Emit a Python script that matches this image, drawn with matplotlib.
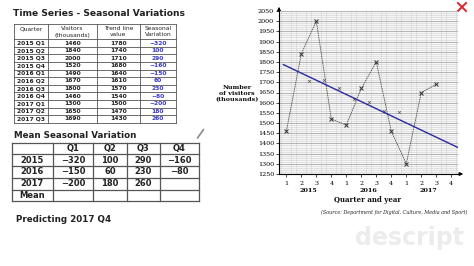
import numpy as np
import matplotlib.pyplot as plt
from matplotlib.ticker import MultipleLocator

# data
quarters = ['2015 Q1', '2015 Q2', '2015 Q3', '2015 Q4', '2016 Q1', '2016 Q2',
            '2016 Q3', '2016 Q4', '2017 Q1', '2017 Q2', '2017 Q3']
visitors = [1460, 1840, 2000, 1520, 1490, 1670, 1800, 1460, 1300, 1650, 1690]
trend_vals = [1780, 1740, 1710, 1680, 1640, 1610, 1570, 1540, 1500, 1470, 1430]
seasonal = [-320, 100, 290, -160, -150, 60, 230, -80, -200, 180, 260]
t = np.arange(1, len(visitors) + 1)

# centred moving averages plotted between quarters
ma_x = [2.5, 3.5, 4.5, 5.5, 6.5, 7.5, 8.5]
ma_y = [1705, 1712.5, 1670, 1620, 1605, 1557.5, 1552.5]

# line of best fit, ends as drawn
trend_x = [0.8, 12.45]
trend_y = [1787, 1380]

xtick_labels = ['1', '2', '3', '4'] * 3
years = ['2015', '2016', '2017']
year_pos = [2.5, 6.5, 10.5]

mean_cols = ['Q1', 'Q2', 'Q3', 'Q4']
mean_rows = ['2015', '2016', '2017', 'Mean']
mean_vals = [['-320', '100', '290', '-160'],
             ['-150', '60', '230', '-80'],
             ['-200', '180', '260', ''],
             ['', '', '', '']]

W, H = 474, 266
fig = plt.figure(figsize=(W / 100, H / 100), dpi=100)
fig.patch.set_facecolor('white')

# full-figure axes in pixel units for the whiteboard part
bg = fig.add_axes([0, 0, 1, 1])
bg.set_xlim(0, W)
bg.set_ylim(H, 0)
bg.axis('off')

hand = 'DejaVu Sans'
bg.text(13, 13, 'Time Series - Seasonal Variations', fontsize=6.6, family=hand,
        weight='bold', color='#222', va='center')

# first table
cols = [14, 48, 97, 140, 176]
top, head_bot, row_h = 24, 39.3, 7.58
n = len(quarters)
bot = head_bot + n * row_h
for xv in cols:
    bg.plot([xv, xv], [top, bot], color='#555', lw=0.6)
for yv in [top, head_bot] + [head_bot + (i + 1) * row_h for i in range(n)]:
    bg.plot([cols[0], cols[-1]], [yv, yv], color='#555', lw=0.6)
headers = [('Quarter', ''), ('Visitors', '(thousands)'), ('Trend line', 'value'),
           ('Seasonal', 'Variation')]
for j, (h1, h2) in enumerate(headers):
    cx = (cols[j] + cols[j + 1]) / 2
    if h2:
        bg.text(cx, 28.6, h1, fontsize=4.3, ha='center', va='center', color='#222')
        bg.text(cx, 35, h2, fontsize=4.3, ha='center', va='center', color='#222')
    else:
        bg.text(cx, 29, h1, fontsize=4.3, ha='center', va='center', color='#222')
for i in range(n):
    cy = head_bot + (i + 0.5) * row_h
    row = [quarters[i], str(visitors[i]), str(trend_vals[i]), str(seasonal[i])]
    for j, s in enumerate(row):
        cx = (cols[j] + cols[j + 1]) / 2
        bg.text(cx, cy, s.replace('-', '\u2212'), fontsize=4.3, ha='center', va='center',
                weight='bold', color='#3a3ac8' if j == 3 else '#222')

# second table
bg.text(14, 135, 'Mean Seasonal Variation', fontsize=6.3, family=hand,
        weight='bold', color='#222', va='center')
mcols = [12, 53, 93, 127, 160, 199]
mrows = [142.7, 154.4, 166.1, 177.8, 189.5, 201]
for xv in mcols:
    bg.plot([xv, xv], [mrows[0], mrows[-1]], color='#555', lw=0.9)
for yv in mrows:
    bg.plot([mcols[0], mcols[-1]], [yv, yv], color='#555', lw=0.9)
for j, s in enumerate(mean_cols):
    bg.text((mcols[j + 1] + mcols[j + 2]) / 2, (mrows[0] + mrows[1]) / 2, s,
            fontsize=6, ha='center', va='center', weight='bold', color='#222')
for i, r in enumerate(mean_rows):
    cy = (mrows[i + 1] + mrows[i + 2]) / 2
    bg.text((mcols[0] + mcols[1]) / 2, cy, r, fontsize=6, ha='center', va='center',
            weight='bold', color='#222')
    for j, s in enumerate(mean_vals[i]):
        bg.text((mcols[j + 1] + mcols[j + 2]) / 2, cy, s.replace('-', '\u2212'),
                fontsize=6, ha='center', va='center', weight='bold', color='#222')

bg.text(16, 219, 'Predicting 2017 Q4', fontsize=6.3, family=hand,
        weight='bold', color='#222', va='center')

# pen cursor
bg.plot([197.5, 203.5], [138, 129.5], color='#888', lw=1.2, solid_capstyle='round')

# red cross, top right
bg.plot([458, 466], [3, 11], color='#e0242b', lw=1.4)
bg.plot([458, 466], [11, 3], color='#e0242b', lw=1.4)

# watermark
bg.text(410, 238, 'descript', fontsize=17, weight='bold', color='#ececec',
        ha='center', va='center')

# chart labels
serif = 'DejaVu Serif'
bg.text(237, 94, 'Number\nof visitors\n(thousands)', fontsize=4.6, family=serif,
        weight='bold', ha='center', va='center', linespacing=1.25, color='#111')
bg.text(368, 200, 'Quarter and year', fontsize=5, family=serif, weight='bold',
        ha='center', va='center', color='#111')
bg.text(467, 212, '(Source: Department for Digital, Culture, Media and Sport)',
        fontsize=3.5, family=serif, style='italic', ha='right', va='center', color='#222')

# chart
ax = fig.add_axes([279 / W, (H - 174) / H, (458 - 279) / W, (174 - 11) / H])
ax.set_facecolor('#f6f6f6')
ax.set_xlim(0.51, 12.45)
ax.set_ylim(1250, 2050)
ax.yaxis.set_major_locator(MultipleLocator(50))
ax.yaxis.set_minor_locator(MultipleLocator(10))
ax.xaxis.set_major_locator(MultipleLocator(1))
ax.xaxis.set_minor_locator(MultipleLocator(1 / 3))
ax.grid(which='major', axis='y', color='#aaaaaa', lw=0.6)
ax.grid(which='minor', color='#d2d2d2', lw=0.4)
ax.set_axisbelow(True)
ax.set_xticks(t.tolist() + [12])
ax.set_xticklabels(xtick_labels)
ax.tick_params(axis='both', labelsize=4.6, length=2, width=0.5, pad=1.5,
               labelfontfamily=serif)
ax.tick_params(axis='x', pad=3)
ax.tick_params(which='minor', length=0)
for s in ['top', 'right']:
    ax.spines[s].set_visible(False)
for s in ['left', 'bottom']:
    ax.spines[s].set_linewidth(0.8)

ax.plot(t, visitors, color='#555', lw=0.6, ls=(0, (2, 0.8)), marker='x', ms=2.6,
        mew=0.7, mec='#333')
ax.plot(ma_x, ma_y, ls='none', marker='x', ms=2, mew=0.5, color='#555')
ax.plot(trend_x, trend_y, color='#2a2aa0', lw=1)

for yr, xp in zip(years, year_pos):
    ax.text(xp, -(190 - 174) / 163, yr, transform=ax.get_xaxis_transform(),
            fontsize=4.6, family=serif, weight='bold', ha='center', va='center')

# axis arrows
bg.annotate('', xy=(466, 174), xytext=(456, 174),
            arrowprops=dict(arrowstyle='-|>', color='k', lw=0.8, mutation_scale=5))
bg.annotate('', xy=(279, 4), xytext=(279, 13),
            arrowprops=dict(arrowstyle='-|>', color='k', lw=0.8, mutation_scale=5))

fig.savefig('out.png', dpi=100)
